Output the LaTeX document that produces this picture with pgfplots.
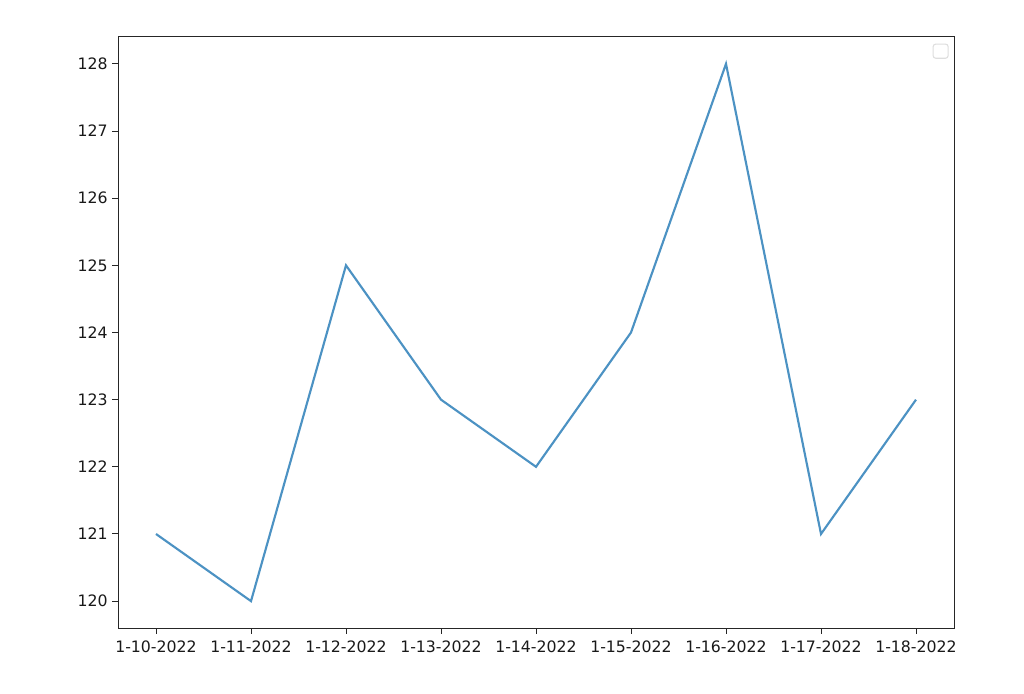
\documentclass[border=0pt]{standalone}
\usepackage{pgfplots}
\pgfplotsset{compat=1.18}
\usepackage{fontspec}
\setmainfont{DejaVu Sans}
\definecolor{lineblue}{RGB}{76,146,195}
\begin{document}
\begin{tikzpicture}
\path (0,0) rectangle (768pt,519.75pt);
\begin{axis}[
  at={(88.5pt,48.75pt)}, anchor=south west,
  scale only axis, width=627pt, height=443.25pt,
  xmin=-0.4, xmax=8.4, ymin=119.6, ymax=128.4,
  xtick={0,...,8},
  xticklabels={1-10-2022,1-11-2022,1-12-2022,1-13-2022,1-14-2022,1-15-2022,1-16-2022,1-17-2022,1-18-2022},
  ytick={120,...,128},
  tick align=outside, tick pos=left,
  major tick length=4.2pt,
  tick style={line width=0.75pt, black!85},
  axis line style={line width=0.75pt, black!85},
  ticklabel style={font=\fontsize{11.8}{13}\selectfont, text=black!90},
  /pgf/number format/assume math mode=true,
  yticklabel style={/pgf/number format/1000 sep={}},
  xticklabel style={yshift=-2.2pt},
]
\addplot[color=lineblue, line width=1.6pt, mark=none] coordinates {
 (0,121) (1,120) (2,125) (3,123) (4,122) (5,124) (6,128) (7,121) (8,123)
};
\draw[rounded corners=2pt, color=black!13, line width=0.8pt, fill=white]
  (rel axis cs:0.975,0.964) rectangle (rel axis cs:0.993,0.988);
\end{axis}
\end{tikzpicture}
\end{document}
